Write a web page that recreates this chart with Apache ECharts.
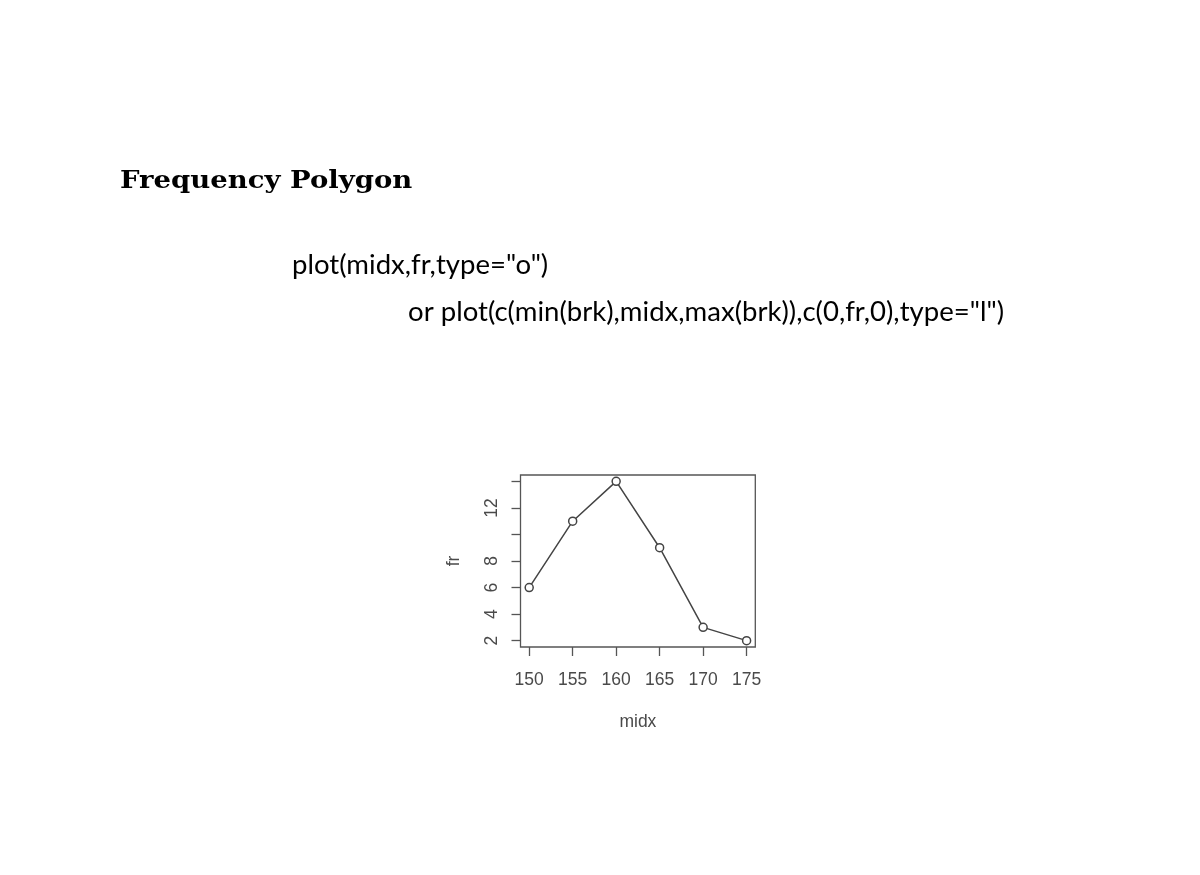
<!DOCTYPE html>
<html>
<head>
<meta charset="utf-8">
<script src="https://cdn.jsdelivr.net/npm/echarts@6/dist/echarts.min.js"></script>
<style>
html,body{margin:0;padding:0;background:#fff;}
#main{width:1200px;height:875px;}
</style>
</head>
<body>
<div id="main"></div>
<script>
// Data
var midx = [150, 155, 160, 165, 170, 175];
var fr = [6, 11, 14, 9, 3, 2];
var xTicks = [150, 155, 160, 165, 170, 175];
var yTicks = [2, 4, 6, 8, 10, 12, 14];
var yLabels = [2, 4, 6, 8, 12];

var titleText = 'Frequency Polygon';
var codeLine1 = 'plot(midx,fr,type="o")';
var codeLine2 = 'or plot(c(min(brk),midx,max(brk)),c(0,fr,0),type="l")';

var pts = midx.map(function (x, i) { return [x, fr[i]]; });

var axisFont = 'Liberation Sans, Arial, sans-serif';
var grayText = '#4a4a4a';
var grayLine = '#555';

var chart = echarts.init(document.getElementById('main'), null, { renderer: 'canvas' });
chart.setOption({
  backgroundColor: '#ffffff',
  animation: false,
  graphic: [
    {
      type: 'text', x: 120, y: 181, scaleX: 1.1, scaleY: 1,
      style: { text: titleText, font: 'bold 25px "DejaVu Serif"', fill: '#000', textAlign: 'left', textVerticalAlign: 'middle' }
    },
    {
      type: 'text', x: 292, y: 266, scaleX: 1.06, scaleY: 1,
      style: { text: codeLine1, font: '26px Lato', fill: '#000', textAlign: 'left', textVerticalAlign: 'middle' }
    },
    {
      type: 'text', x: 408, y: 313, scaleX: 1.06, scaleY: 1,
      style: { text: codeLine2, font: '26px Lato', fill: '#000', textAlign: 'left', textVerticalAlign: 'middle' }
    }
  ],
  grid: {
    left: 520.5, right: 444.7, top: 475, bottom: 228,
    show: true, borderColor: grayLine, borderWidth: 1.3, backgroundColor: 'transparent'
  },
  xAxis: {
    type: 'value', min: 149, max: 176,
    name: 'midx', nameLocation: 'middle', nameGap: 66,
    nameTextStyle: { fontFamily: axisFont, fontSize: 17.5, color: grayText },
    axisLine: { show: false },
    splitLine: { show: false },
    axisTick: { show: true, customValues: xTicks, length: 9, lineStyle: { color: grayLine, width: 1.3 } },
    axisLabel: { show: true, customValues: xTicks, margin: 24, fontFamily: axisFont, fontSize: 17.5, color: grayText }
  },
  yAxis: {
    type: 'value', min: 1.52, max: 14.48,
    name: 'fr', nameLocation: 'middle', nameGap: 57, nameRotate: 90,
    nameTextStyle: { fontFamily: axisFont, fontSize: 17.5, color: grayText },
    axisLine: { show: false },
    splitLine: { show: false },
    axisTick: { show: true, customValues: yTicks, length: 9, lineStyle: { color: grayLine, width: 1.3 } },
    axisLabel: { show: true, customValues: yLabels, rotate: 90, margin: 19, fontFamily: axisFont, fontSize: 17.5, color: grayText }
  },
  series: [{
    type: 'line',
    data: pts,
    symbol: 'circle',
    symbolSize: 8,
    showAllSymbol: true,
    lineStyle: { color: '#444', width: 1.5 },
    itemStyle: { color: '#fff', borderColor: '#444', borderWidth: 1.5 }
  }]
});
</script>
</body>
</html>
